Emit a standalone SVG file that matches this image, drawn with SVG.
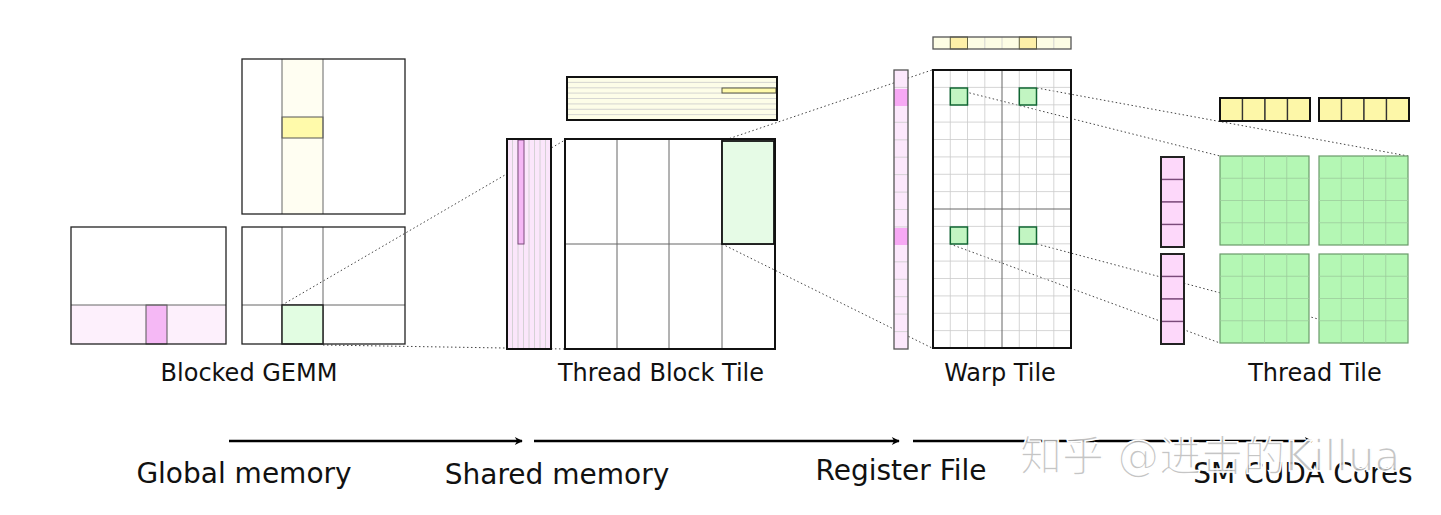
<svg xmlns="http://www.w3.org/2000/svg" width="1441" height="515" viewBox="0 0 1441 515">
<defs>
<marker id="ah" viewBox="0 0 10 10" refX="9" refY="5" markerWidth="10" markerHeight="8" markerUnits="userSpaceOnUse" orient="auto"><path d="M0,0 L10,5 L0,10 L3,5 z" fill="#000"/></marker>
</defs>
<style>
.box{fill:none;stroke:#222;stroke-width:1.3}
.thick{fill:none;stroke:#111;stroke-width:2}
.ln{stroke:#666;stroke-width:1}
.lt{stroke:#ccc;stroke-width:0.8}
.dot{stroke:#444;stroke-width:1;stroke-dasharray:1.5,2.5;fill:none}
.lbl{font-family:"DejaVu Sans",sans-serif;font-size:24px;fill:#111;text-anchor:middle}
.big{font-family:"DejaVu Sans",sans-serif;font-size:28px;fill:#111;text-anchor:middle}
.arr{stroke:#000;stroke-width:2.5;marker-end:url(#ah)}
</style>
<rect width="1441" height="515" fill="#fff"/>
<g id="connectors">
<line class="dot" x1="282" y1="305" x2="565" y2="140"/>
<line class="dot" x1="323" y1="345" x2="565" y2="349"/>
<line class="dot" x1="722" y1="141" x2="932" y2="70"/>
<line class="dot" x1="722" y1="244" x2="932" y2="348"/>
<line class="dot" x1="950" y1="88" x2="1220" y2="156"/>
<line class="dot" x1="1037" y1="88" x2="1408" y2="156"/>
<line class="dot" x1="950" y1="244" x2="1220" y2="343"/>
<line class="dot" x1="1037" y1="244" x2="1408" y2="343"/>
<line class="arr" x1="229" y1="441" x2="522" y2="441"/>
<line class="arr" x1="534" y1="441" x2="899" y2="441"/>
<line class="arr" x1="913" y1="441" x2="1312" y2="441"/>
</g>
<g id="blocked-gemm">
<rect x="282" y="59" width="41" height="155" fill="#fffef2"/>
<rect x="282" y="117" width="41" height="21" fill="#fffaaa" stroke="#555"/>
<line class="ln" x1="282" y1="59" x2="282" y2="214"/><line class="ln" x1="323" y1="59" x2="323" y2="214"/>
<rect class="box" x="242" y="59" width="163" height="155"/>
<rect x="71" y="305" width="155" height="39" fill="#fdf0fc"/>
<rect x="146" y="305" width="21" height="39" fill="#f5b8f5" stroke="#555"/>
<line class="ln" x1="71" y1="305" x2="226" y2="305"/>
<rect class="box" x="71" y="227" width="155" height="117"/>
<line class="ln" x1="282" y1="227" x2="282" y2="344"/><line class="ln" x1="323" y1="227" x2="323" y2="344"/>
<line class="ln" x1="242" y1="305" x2="405" y2="305"/>
<rect x="282" y="305" width="41" height="39" fill="#e2fde2" stroke="#222" stroke-width="1.5"/>
<rect class="box" x="242" y="227" width="163" height="117"/>
</g>
<g id="thread-block-tile">
<rect x="507" y="139" width="44" height="210" fill="#fbe6fb"/>
<g class="lt"><line x1="512.5" y1="139" x2="512.5" y2="349"/><line x1="518" y1="139" x2="518" y2="349"/><line x1="523.5" y1="139" x2="523.5" y2="349"/><line x1="529" y1="139" x2="529" y2="349"/><line x1="534.5" y1="139" x2="534.5" y2="349"/><line x1="540" y1="139" x2="540" y2="349"/><line x1="545.5" y1="139" x2="545.5" y2="349"/></g>
<rect x="518" y="140" width="6" height="104" fill="#f5b8f5" stroke="#7a4a7a"/>
<rect class="thick" x="507" y="139" width="44" height="210"/>
<rect x="567" y="77" width="210" height="43" fill="#fdfde8"/>
<g class="lt"><line x1="567" y1="82.4" x2="777" y2="82.4"/><line x1="567" y1="87.8" x2="777" y2="87.8"/><line x1="567" y1="93.1" x2="777" y2="93.1"/><line x1="567" y1="98.5" x2="777" y2="98.5"/><line x1="567" y1="103.9" x2="777" y2="103.9"/><line x1="567" y1="109.3" x2="777" y2="109.3"/><line x1="567" y1="114.6" x2="777" y2="114.6"/></g>
<rect x="722" y="88" width="54" height="5" fill="#fffaaa" stroke="#554"/>
<rect class="thick" x="567" y="77" width="210" height="43"/>
<line class="ln" x1="617" y1="139" x2="617" y2="349"/><line class="ln" x1="669" y1="139" x2="669" y2="349"/><line class="ln" x1="722" y1="139" x2="722" y2="349"/>
<line class="ln" x1="565" y1="244" x2="775" y2="244"/>
<rect x="722" y="141" width="52" height="103" fill="#e6fbe6" stroke="#111" stroke-width="1.8"/>
<rect class="thick" x="565" y="139" width="210" height="210"/>
</g>
<g id="warp-tile">
<rect x="894" y="70" width="14" height="279" fill="#fce8fc"/>
<g class="lt"><line x1="894" y1="87.4" x2="908" y2="87.4"/><line x1="894" y1="104.9" x2="908" y2="104.9"/><line x1="894" y1="122.3" x2="908" y2="122.3"/><line x1="894" y1="139.8" x2="908" y2="139.8"/><line x1="894" y1="157.2" x2="908" y2="157.2"/><line x1="894" y1="174.6" x2="908" y2="174.6"/><line x1="894" y1="192.1" x2="908" y2="192.1"/><line x1="894" y1="209.5" x2="908" y2="209.5"/><line x1="894" y1="226.9" x2="908" y2="226.9"/><line x1="894" y1="244.4" x2="908" y2="244.4"/><line x1="894" y1="261.8" x2="908" y2="261.8"/><line x1="894" y1="279.3" x2="908" y2="279.3"/><line x1="894" y1="296.7" x2="908" y2="296.7"/><line x1="894" y1="314.1" x2="908" y2="314.1"/><line x1="894" y1="331.6" x2="908" y2="331.6"/></g>
<rect x="894" y="89" width="14" height="17" fill="#f7a8f4"/>
<rect x="894" y="228" width="14" height="17" fill="#f7a8f4"/>
<rect x="894" y="70" width="14" height="279" fill="none" stroke="#555" stroke-width="1.3"/>
<rect x="933" y="37" width="138" height="12" fill="#fdfde4"/>
<g class="lt"><line x1="950.3" y1="37" x2="950.3" y2="49"/><line x1="967.5" y1="37" x2="967.5" y2="49"/><line x1="984.8" y1="37" x2="984.8" y2="49"/><line x1="1002" y1="37" x2="1002" y2="49"/><line x1="1019.3" y1="37" x2="1019.3" y2="49"/><line x1="1036.5" y1="37" x2="1036.5" y2="49"/><line x1="1053.8" y1="37" x2="1053.8" y2="49"/></g>
<rect x="950.3" y="37" width="17.2" height="12" fill="#fdf0a8" stroke="#664"/>
<rect x="1019.3" y="37" width="17.2" height="12" fill="#fdf0a8" stroke="#664"/>
<rect x="933" y="37" width="138" height="12" fill="none" stroke="#555" stroke-width="1.3"/>
<g class="lt">
<line x1="950.3" y1="70" x2="950.3" y2="348"/><line x1="967.5" y1="70" x2="967.5" y2="348"/><line x1="984.8" y1="70" x2="984.8" y2="348"/><line x1="1019.3" y1="70" x2="1019.3" y2="348"/><line x1="1036.5" y1="70" x2="1036.5" y2="348"/><line x1="1053.8" y1="70" x2="1053.8" y2="348"/>
<line x1="933" y1="87.4" x2="1071" y2="87.4"/><line x1="933" y1="104.8" x2="1071" y2="104.8"/><line x1="933" y1="122.1" x2="1071" y2="122.1"/><line x1="933" y1="139.5" x2="1071" y2="139.5"/><line x1="933" y1="156.9" x2="1071" y2="156.9"/><line x1="933" y1="174.3" x2="1071" y2="174.3"/><line x1="933" y1="191.6" x2="1071" y2="191.6"/><line x1="933" y1="226.4" x2="1071" y2="226.4"/><line x1="933" y1="243.8" x2="1071" y2="243.8"/><line x1="933" y1="261.1" x2="1071" y2="261.1"/><line x1="933" y1="278.5" x2="1071" y2="278.5"/><line x1="933" y1="295.9" x2="1071" y2="295.9"/><line x1="933" y1="313.3" x2="1071" y2="313.3"/><line x1="933" y1="330.6" x2="1071" y2="330.6"/>
</g>
<line class="ln" x1="1002" y1="70" x2="1002" y2="348"/><line class="ln" x1="933" y1="209" x2="1071" y2="209"/>
<rect x="950.3" y="88" width="17.2" height="17" fill="#c2f5c2" stroke="#163" stroke-width="1.5"/>
<rect x="1019.3" y="88" width="17.2" height="17" fill="#c2f5c2" stroke="#163" stroke-width="1.5"/>
<rect x="950.3" y="227" width="17.2" height="17" fill="#c2f5c2" stroke="#163" stroke-width="1.5"/>
<rect x="1019.3" y="227" width="17.2" height="17" fill="#c2f5c2" stroke="#163" stroke-width="1.5"/>
<rect class="thick" x="933" y="70" width="138" height="278"/>
</g>
<g id="thread-tile">
<g fill="#fdd8fa" stroke="#7a4a7a" stroke-width="1.3">
<rect x="1161" y="157" width="23" height="22.5"/><rect x="1161" y="179.5" width="23" height="22.5"/><rect x="1161" y="202" width="23" height="22.5"/><rect x="1161" y="224.5" width="23" height="22.5"/>
<rect x="1161" y="254" width="23" height="22.5"/><rect x="1161" y="276.5" width="23" height="22.5"/><rect x="1161" y="299" width="23" height="22.5"/><rect x="1161" y="321.5" width="23" height="22.5"/>
</g>
<rect x="1161" y="157" width="23" height="90" fill="none" stroke="#222" stroke-width="2"/>
<rect x="1161" y="254" width="23" height="90" fill="none" stroke="#222" stroke-width="2"/>
<g fill="#fdf7a8" stroke="#333" stroke-width="1.3">
<rect x="1220" y="98" width="22.5" height="23"/><rect x="1242.5" y="98" width="22.5" height="23"/><rect x="1265" y="98" width="22.5" height="23"/><rect x="1287.5" y="98" width="22.5" height="23"/>
<rect x="1319" y="98" width="22.5" height="23"/><rect x="1341.5" y="98" width="22.5" height="23"/><rect x="1364" y="98" width="22.5" height="23"/><rect x="1386.5" y="98" width="22.5" height="23"/>
</g>
<rect x="1220" y="98" width="90" height="23" fill="none" stroke="#111" stroke-width="2"/>
<rect x="1319" y="98" width="90" height="23" fill="none" stroke="#111" stroke-width="2"/>
<g fill="#b4f7b4" stroke="#6a9a6a" stroke-width="1.2">
<rect x="1220" y="156" width="89" height="89"/><rect x="1319" y="156" width="89" height="89"/>
<rect x="1220" y="254" width="89" height="89"/><rect x="1319" y="254" width="89" height="89"/>
</g>
<g stroke="#9ccc9c" stroke-width="0.8">
<path d="M1242.25 156V245M1264.5 156V245M1286.75 156V245M1220 178.25H1309M1220 200.5H1309M1220 222.75H1309"/>
<path d="M1341.25 156V245M1363.5 156V245M1385.75 156V245M1319 178.25H1408M1319 200.5H1408M1319 222.75H1408"/>
<path d="M1242.25 254V343M1264.5 254V343M1286.75 254V343M1220 276.25H1309M1220 298.5H1309M1220 320.75H1309"/>
<path d="M1341.25 254V343M1363.5 254V343M1385.75 254V343M1319 276.25H1408M1319 298.5H1408M1319 320.75H1408"/>
</g>
</g>
<g id="labels">
<text class="lbl" x="249" y="381">Blocked GEMM</text>
<text class="lbl" x="661" y="381">Thread Block Tile</text>
<text class="lbl" x="1000" y="381">Warp Tile</text>
<text class="lbl" x="1315" y="381">Thread Tile</text>
<text class="big" x="244" y="483">Global memory</text>
<text class="big" x="557" y="484">Shared memory</text>
<text class="big" x="901" y="480">Register File</text>
<text class="big" x="1303" y="483">SM CUDA Cores</text>
</g>
<text x="1020" y="471" font-family="'DejaVu Sans','Noto Sans CJK SC',sans-serif" font-size="42" fill="#bdbdbd" fill-opacity="0.9" stroke="#fff" stroke-width="1.5">知乎 @进击的Killua</text>
</svg>
